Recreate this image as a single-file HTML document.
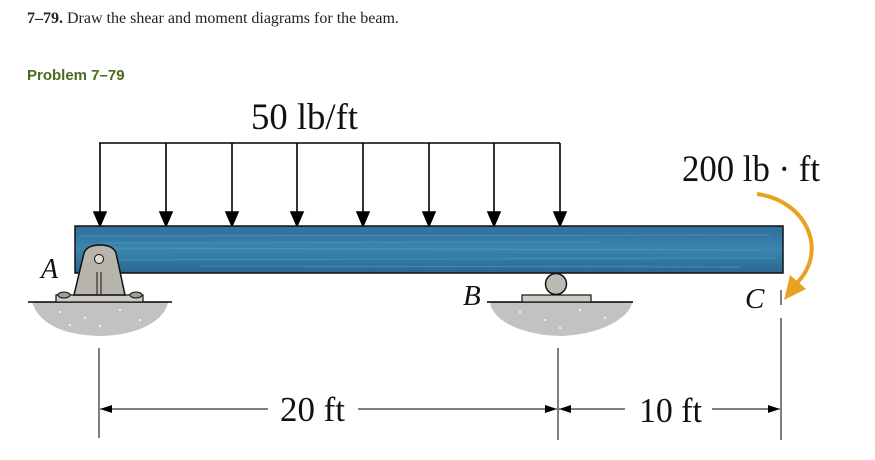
<!DOCTYPE html>
<html><head><meta charset="utf-8"><style>
html,body{margin:0;padding:0;background:#fff;width:875px;height:460px;overflow:hidden}
</style></head><body>
<svg width="875" height="460" viewBox="0 0 875 460" xmlns="http://www.w3.org/2000/svg">
<defs>
<linearGradient id="bm" x1="0" y1="0" x2="0" y2="1">
<stop offset="0" stop-color="#2f6f98"/><stop offset="0.5" stop-color="#3a86b0"/><stop offset="1" stop-color="#2a6790"/>
</linearGradient>
</defs>
<text x="27" y="23" font-family="Liberation Serif, serif" font-size="16" fill="#222"><tspan font-weight="bold">7–79.</tspan> Draw the shear and moment diagrams for the beam.</text>
<text x="27" y="80" font-family="Liberation Sans, sans-serif" font-size="15" font-weight="bold" fill="#4a6a1e">Problem 7–79</text>

<text x="251" y="129" textLength="107" lengthAdjust="spacingAndGlyphs" font-family="Liberation Serif, serif" font-size="37" fill="#111">50 lb/ft</text>
<line x1="99" y1="143" x2="560" y2="143" stroke="#000" stroke-width="1.5"/>
<g stroke="#000" stroke-width="1.6" fill="#000">
<line x1="100" y1="143" x2="100" y2="215"/><path d="M94,212 L100,226 L106,212Z"/>
<line x1="166" y1="143" x2="166" y2="215"/><path d="M160,212 L166,226 L172,212Z"/>
<line x1="232" y1="143" x2="232" y2="215"/><path d="M226,212 L232,226 L238,212Z"/>
<line x1="297" y1="143" x2="297" y2="215"/><path d="M291,212 L297,226 L303,212Z"/>
<line x1="363" y1="143" x2="363" y2="215"/><path d="M357,212 L363,226 L369,212Z"/>
<line x1="429" y1="143" x2="429" y2="215"/><path d="M423,212 L429,226 L435,212Z"/>
<line x1="494" y1="143" x2="494" y2="215"/><path d="M488,212 L494,226 L500,212Z"/>
<line x1="560" y1="143" x2="560" y2="215"/><path d="M554,212 L560,226 L566,212Z"/>
</g>

<rect x="75" y="226" width="708" height="47" fill="url(#bm)" stroke="#111" stroke-width="1.5"/>
<g stroke="#5aa6cc" stroke-width="1" opacity="0.5">
<line x1="80" y1="236" x2="770" y2="235"/><line x1="90" y1="248" x2="760" y2="250"/><line x1="85" y1="260" x2="775" y2="258"/><line x1="100" y1="243" x2="600" y2="242"/><line x1="200" y1="266" x2="740" y2="267"/>
</g>

<path d="M32,302 L168,302 C165,320 140,335 100,336 C60,335 38,322 32,302Z" fill="#c2c2c2"/>
<g fill="#fff"><circle cx="60" cy="312" r="1"/><circle cx="85" cy="318" r="1"/><circle cx="120" cy="310" r="1"/><circle cx="140" cy="320" r="1"/><circle cx="100" cy="326" r="1"/><circle cx="70" cy="325" r="1"/></g>
<line x1="28" y1="302" x2="172" y2="302" stroke="#000" stroke-width="1.5"/>
<rect x="56" y="295" width="87" height="7" fill="#cfccc5" stroke="#111" stroke-width="1.2"/>
<ellipse cx="64" cy="295" rx="6" ry="3" fill="#a09d95" stroke="#111"/>
<ellipse cx="136" cy="295" rx="6" ry="3" fill="#a09d95" stroke="#111"/>
<path d="M74,295 L84,253 Q87,245 100,245 Q113,245 116,253 L125,295Z" fill="#b8b5ad" stroke="#111" stroke-width="1.5"/>
<circle cx="99" cy="259" r="4.5" fill="#ddd" stroke="#111"/>
<line x1="97" y1="272" x2="97" y2="295" stroke="#111"/><line x1="101" y1="272" x2="101" y2="295" stroke="#111"/>
<text x="41" y="278" font-family="Liberation Serif, serif" font-style="italic" font-size="28" fill="#111">A</text>

<path d="M490,302 L632,302 C630,318 600,335 560,336 C520,335 492,320 490,302Z" fill="#c2c2c2"/>
<g fill="#fff"><circle cx="520" cy="312" r="1"/><circle cx="545" cy="320" r="1"/><circle cx="580" cy="310" r="1"/><circle cx="605" cy="318" r="1"/><circle cx="560" cy="328" r="1"/></g>
<line x1="487" y1="302" x2="633" y2="302" stroke="#000" stroke-width="1.5"/>
<rect x="522" y="295" width="69" height="7" fill="#cfccc5" stroke="#111" stroke-width="1.2"/>
<circle cx="556" cy="284" r="10.5" fill="#bdbab3" stroke="#111" stroke-width="1.5"/>
<text x="463" y="305" font-family="Liberation Serif, serif" font-style="italic" font-size="29" fill="#111">B</text>

<text x="682" y="181" textLength="138" lengthAdjust="spacingAndGlyphs" font-family="Liberation Serif, serif" font-size="37" fill="#111">200 lb · ft</text>
<path d="M757,194 C805,200 830,250 796,284" fill="none" stroke="#e9a21f" stroke-width="4"/>
<path d="M784,300 L790,275 L806,289Z" fill="#e9a21f"/>
<text x="745" y="308" font-family="Liberation Serif, serif" font-style="italic" font-size="29" fill="#111">C</text>
<line x1="781" y1="290" x2="781" y2="305" stroke="#000"/>

<g stroke="#000" stroke-width="1">
<line x1="99" y1="348" x2="99" y2="438"/>
<line x1="558" y1="348" x2="558" y2="440"/>
<line x1="781" y1="318" x2="781" y2="440"/>
<line x1="100" y1="409" x2="268" y2="409"/>
<line x1="358" y1="409" x2="557" y2="409"/>
<line x1="559" y1="409" x2="625" y2="409"/>
<line x1="712" y1="409" x2="780" y2="409"/>
</g>
<g fill="#000">
<path d="M100,409 L112,405 L112,413Z"/>
<path d="M557,409 L545,405 L545,413Z"/>
<path d="M559,409 L571,405 L571,413Z"/>
<path d="M780,409 L768,405 L768,413Z"/>
</g>
<text x="280" y="421" textLength="65" lengthAdjust="spacingAndGlyphs" font-family="Liberation Serif, serif" font-size="35" fill="#111">20 ft</text>
<text x="639" y="422" textLength="63" lengthAdjust="spacingAndGlyphs" font-family="Liberation Serif, serif" font-size="35" fill="#111">10 ft</text>
</svg>
</body></html>
